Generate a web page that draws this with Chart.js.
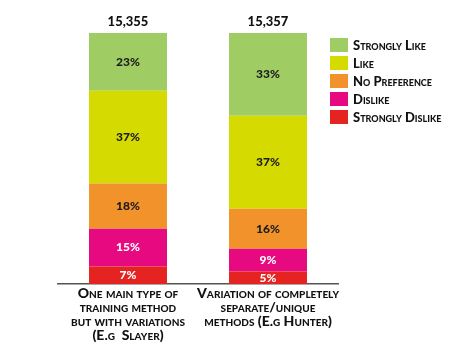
<!DOCTYPE html>
<html>
<head>
<meta charset="utf-8">
<script src="https://cdn.jsdelivr.net/npm/chart.js@4/dist/chart.umd.min.js"></script>
<style>
  html, body { margin: 0; padding: 0; background: #fff; }
  #wrap { width: 474px; height: 363px; }
</style>
</head>
<body>
<div id="wrap"><canvas id="prefChart" width="474" height="363"></canvas></div>
<script>
// chart values
const categories = [
    ['One main type of', 'training method', 'but with variations', '(E.g  Slayer)'],
    ['Variation of completely', 'separate/unique', 'methods (E.g Hunter)']
];
const totals = [15355, 15357];
const seriesNames = ['Strongly Dislike', 'Dislike', 'No Preference', 'Like', 'Strongly Like'];
const stronglyDislike = [7, 5];
const dislike = [15, 9];
const noPreference = [18, 16];
const like = [37, 37];
const stronglyLike = [23, 33];

const colors = ['#e52421', '#e6097f', '#f2922b', '#d5db00', '#9fcd63'];
const FONT = 'Lato';

const seriesValues = [stronglyDislike, dislike, noPreference, like, stronglyLike];

// percent labels inside bars and totals above them
const barLabels = {
    id: 'barLabels',
    afterDatasetsDraw(chart) {
        const ctx = chart.ctx;
        ctx.save();
        ctx.textAlign = 'center';
        ctx.textBaseline = 'middle';
        ctx.font = '900 12px ' + FONT;
        chart.data.datasets.forEach((ds, i) => {
            const meta = chart.getDatasetMeta(i);
            meta.data.forEach((bar, j) => {
                ctx.fillStyle = i < 2 ? '#ffffff' : '#1b1b1b';
                ctx.fillText(ds.data[j] + '%', bar.x, (bar.y + bar.base) / 2);
            });
        });
        const top = chart.getDatasetMeta(chart.data.datasets.length - 1);
        ctx.font = '900 13px ' + FONT;
        ctx.fillStyle = '#111';
        top.data.forEach((bar, j) => {
            ctx.fillText(totals[j].toLocaleString('en-US'), bar.x, bar.y - 11);
        });
        ctx.restore();
    }
};

// legend at the right, top entry first
const sideLegend = {
    id: 'sideLegend',
    afterDraw(chart) {
        const ctx = chart.ctx;
        ctx.save();
        ctx.textBaseline = 'middle';
        ctx.textAlign = 'left';
        ctx.font = 'small-caps 900 13px ' + FONT;
        const items = chart.data.datasets.slice().reverse();
        items.forEach((ds, k) => {
            const y = 38 + k * 18;
            ctx.fillStyle = ds.backgroundColor;
            ctx.fillRect(330, y, 18, 14);
            ctx.fillStyle = '#111';
            ctx.fillText(ds.label, 353, y + 7.5);
        });
        ctx.restore();
    }
};

const ctx = document.getElementById('prefChart').getContext('2d');
new Chart(ctx, {
    type: 'bar',
    data: {
        labels: categories,
        datasets: seriesNames.map((name, i) => ({
            label: name,
            data: seriesValues[i],
            backgroundColor: colors[i],
            borderWidth: 0,
            barPercentage: 0.557,
            categoryPercentage: 1
        }))
    },
    options: {
        responsive: false,
        animation: false,
        layout: { padding: { left: 58, right: 136, top: 33, bottom: 19 } },
        plugins: { legend: { display: false }, tooltip: { enabled: false } },
        scales: {
            x: {
                stacked: true,
                grid: { display: false, drawTicks: false },
                border: { display: true, color: '#555', width: 1.5 },
                ticks: {
                    color: '#111',
                    padding: 2,
                    maxRotation: 0,
                    autoSkip: false,
                    // style only accepts normal/italic, so small-caps rides in front of the weight
                    font: { family: FONT, size: 14, weight: 'small-caps 900', lineHeight: '14px' }
                }
            },
            y: {
                stacked: true,
                display: false,
                min: 0,
                max: 100
            }
        }
    },
    plugins: [barLabels, sideLegend]
});
</script>
</body>
</html>
